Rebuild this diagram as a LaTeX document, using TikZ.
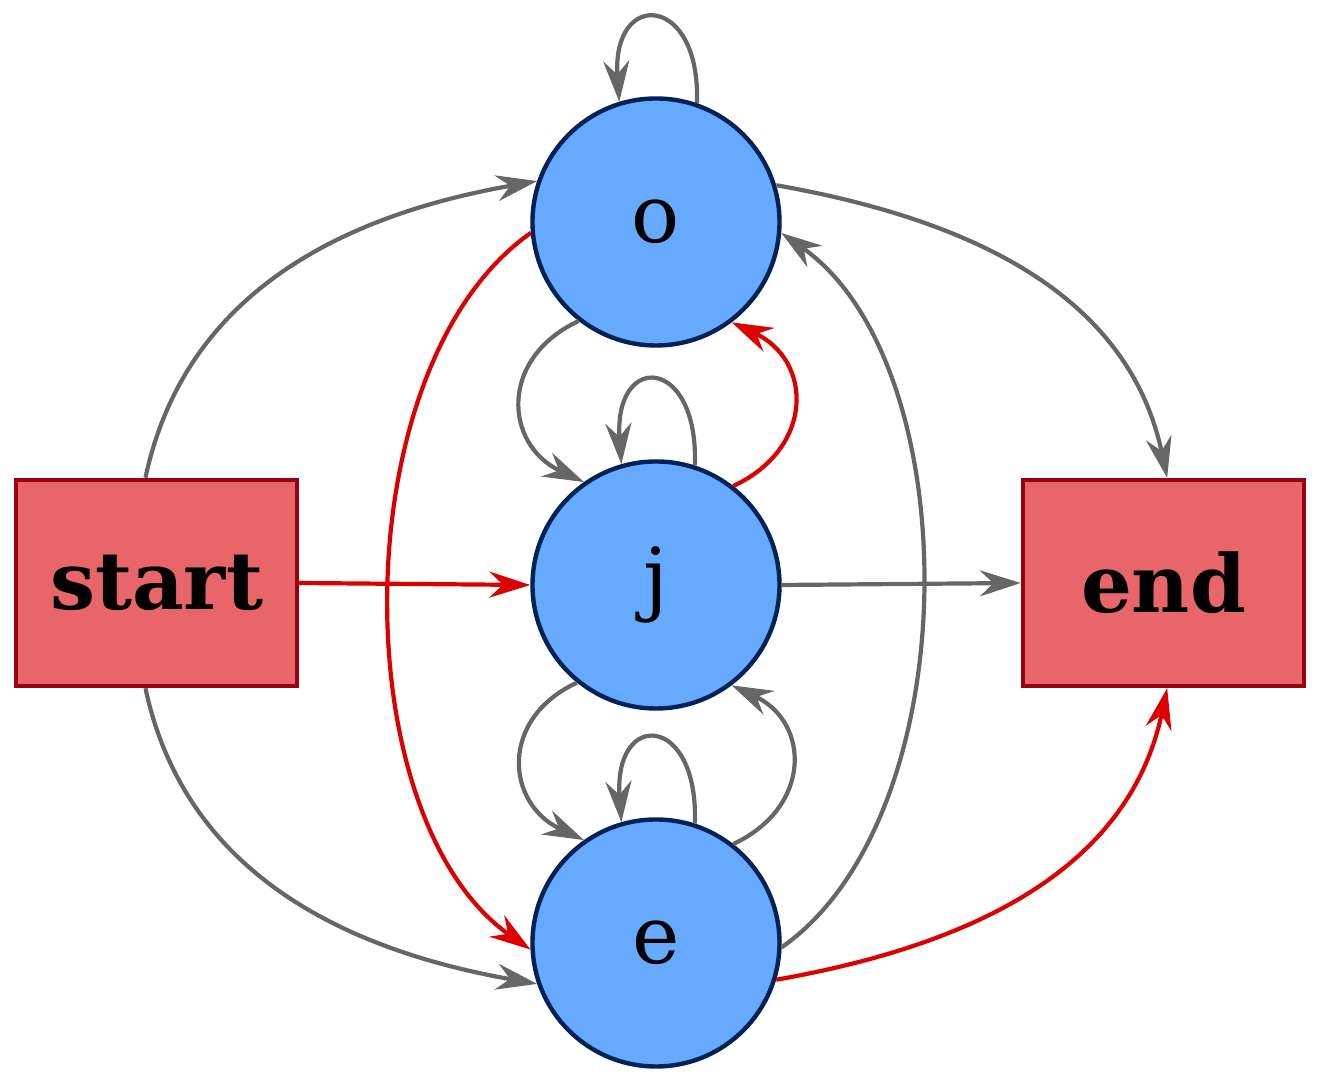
\documentclass[tikz,border=0pt]{standalone}
\usepackage{fontspec}
\setmainfont{DejaVu Serif}
\usetikzlibrary{arrows.meta}
\definecolor{cfill}{HTML}{66AAFF}
\definecolor{cborder}{HTML}{002255}
\definecolor{rfill}{HTML}{E8666A}
\definecolor{rborder}{HTML}{990012}
\definecolor{egray}{HTML}{666666}
\definecolor{ered}{HTML}{DD0000}
\begin{document}
\begin{tikzpicture}[x=0.5pt,y=0.5pt,
  state/.style={circle, draw=cborder, fill=cfill, line width=2.2pt, minimum size=123.5pt, inner sep=0pt, font=\fontsize{40}{48}\selectfont},
  term/.style={rectangle, draw=rborder, fill=rfill, line width=2.2pt, minimum width=140.5pt, minimum height=103pt, inner sep=0pt, font=\fontsize{40}{48}\selectfont\bfseries},
  tipstyle/.style={-{Stealth[length=20.5pt,width=13pt,inset=6.8pt]}},
  gedge/.style={draw=egray, line width=2.1pt, tipstyle},
  redge/.style={draw=ered, line width=2.1pt, tipstyle}]
\useasboundingbox (0,0) rectangle (1321,1085);
\node[state] (o) at (656,863) {o};
\node[state] (j) at (656,500) {j};
\node[state] (e) at (656,142) {e};
\node[term] (start) at (156.5,502) {start};
\node[term] (end) at (1163.5,502) {end};
% self loops
\draw[gedge] (o.71) .. controls +(4,110) and +(-8,113) .. (o.107);
\draw[gedge] (j.72) .. controls +(4,110) and +(-8,113) .. (j.106);
\draw[gedge] (e.72) .. controls +(4,110) and +(-8,113) .. (e.106);
% start edges
\draw[gedge] (start.96) to[out=78,in=190] (o.161);
\draw[gedge] (start.264) to[out=-78,in=170] (e.199);
\draw[redge] (start.east) -- (j.west);
% long vertical arcs
\draw[redge] (o.185) to[out=215,in=145,looseness=0.82] (e.183);
\draw[gedge] (e.358) to[out=35,in=-35,looseness=0.82] (o.355);
% between neighbours
\draw[gedge] (o.232) to[out=205,in=155,looseness=1.4] (j.125);
\draw[redge] (j.52) to[out=25,in=-25,looseness=1.4] (o.307);
\draw[gedge] (j.231) to[out=205,in=155,looseness=1.4] (e.125);
\draw[gedge] (e.52) to[out=25,in=-25,looseness=1.4] (j.307);
% to end
\draw[gedge] (o.17) to[out=-10,in=102] (end.88);
\draw[gedge] (j.east) -- (end.west);
\draw[redge] (e.343) to[out=10,in=258] (end.272);
\end{tikzpicture}
\end{document}
